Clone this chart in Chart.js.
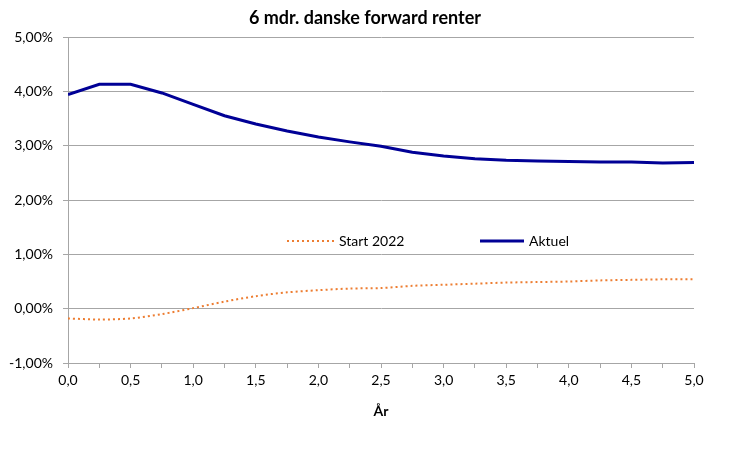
<!DOCTYPE html>
<html>
<head>
<meta charset="utf-8">
<script src="https://cdn.jsdelivr.net/npm/chart.js@4"></script>
<style>
    html, body { margin: 0; padding: 0; background: #fff; }
    #wrap { width: 739px; height: 466px; }
</style>
</head>
<body>
<div id="wrap"><canvas id="chart" width="739" height="466"></canvas></div>
<script>
// Data
const years = [0, 0.25, 0.5, 0.75, 1, 1.25, 1.5, 1.75, 2, 2.25, 2.5, 2.75, 3, 3.25, 3.5, 3.75, 4, 4.25, 4.5, 4.75, 5];
const start2022 = [-0.18, -0.20, -0.18, -0.10, 0.01, 0.13, 0.23, 0.30, 0.34, 0.37, 0.38, 0.42, 0.44, 0.46, 0.48, 0.49, 0.50, 0.52, 0.53, 0.54, 0.54];
const aktuel = [3.94, 4.13, 4.13, 3.97, 3.76, 3.55, 3.40, 3.27, 3.16, 3.07, 2.99, 2.88, 2.81, 2.76, 2.73, 2.72, 2.71, 2.70, 2.70, 2.68, 2.69];
const yTicks = [-1, 0, 1, 2, 3, 4, 5];

const FONT = "Lato, 'Open Sans', sans-serif";
const GRID = "#a6a6a6";

function toPoints(vals) {
    return years.map((x, i) => ({ x: x, y: vals[i] }));
}

// Center the title on the whole picture, not just the plot box
const titleCenter = {
    id: "titleCenter",
    afterLayout(chart) {
        if (chart.titleBlock) {
            chart.titleBlock.left = 0;
            chart.titleBlock.right = 730;
        }
    }
};

// Legend drawn inside the plot, like the Excel original
const innerLegend = {
    id: "innerLegend",
    afterDraw(chart) {
        const ctx = chart.ctx;
        const area = chart.chartArea;
        const y = area.top + (area.bottom - area.top) * 0.626;
        const items = [
            { ds: chart.data.datasets[0], x0: 287, x1: 334 },
            { ds: chart.data.datasets[1], x0: 480, x1: 524 }
        ];
        ctx.save();
        items.forEach(function (it) {
            ctx.beginPath();
            ctx.strokeStyle = it.ds.borderColor;
            ctx.lineWidth = it.ds.borderWidth;
            ctx.setLineDash(it.ds.borderDash || []);
            ctx.moveTo(it.x0, y);
            ctx.lineTo(it.x1, y);
            ctx.stroke();
            ctx.setLineDash([]);
            ctx.fillStyle = "#000";
            ctx.font = "14px " + FONT;
            ctx.textBaseline = "middle";
            ctx.fillText(it.ds.label, it.x1 + 5, y);
        });
        ctx.restore();
    }
};

const ctx = document.getElementById("chart").getContext("2d");
new Chart(ctx, {
    type: "line",
    data: {
        datasets: [{
            label: "Start 2022",
            data: toPoints(start2022),
            borderColor: "#ed7d31",
            borderWidth: 2,
            borderDash: [2, 3],
            pointRadius: 0,
            tension: 0.3,
            fill: false
        }, {
            label: "Aktuel",
            data: toPoints(aktuel),
            borderColor: "#000096",
            borderWidth: 3,
            pointRadius: 0,
            tension: 0,
            fill: false
        }]
    },
    options: {
        responsive: false,
        animation: false,
        layout: { padding: { left: 0, right: 45, top: 0, bottom: 0 } },
        plugins: {
            legend: { display: false },
            tooltip: { enabled: false },
            title: {
                display: true,
                text: "6 mdr. danske forward renter",
                color: "#000",
                font: { family: FONT, size: 18, weight: "bold" },
                padding: { top: 7, bottom: 8.4 }
            }
        },
        scales: {
            x: {
                type: "linear",
                min: 0,
                max: 5,
                afterBuildTicks(scale) {
                    scale.ticks = years.map(v => ({ value: v }));
                },
                afterFit(scale) { scale.height = 103; },
                ticks: {
                    autoSkip: false,
                    maxRotation: 0,
                    padding: 4,
                    color: "#000",
                    font: { family: FONT, size: 14 },
                    callback: function (v) {
                        return (Math.round(v * 100) % 50 === 0) ? v.toFixed(1).replace(".", ",") : "";
                    }
                },
                grid: { drawOnChartArea: false, drawTicks: true, tickLength: 5, color: GRID },
                border: { color: GRID, width: 1 },
                title: {
                    display: true,
                    text: "År",
                    color: "#000",
                    font: { family: FONT, size: 14, weight: "bold" },
                    padding: { top: 0, bottom: 46 }
                }
            },
            y: {
                min: -1,
                max: 5,
                afterBuildTicks(scale) {
                    scale.ticks = yTicks.map(v => ({ value: v }));
                },
                afterFit(scale) { scale.width = 68; },
                ticks: {
                    padding: 10,
                    color: "#000",
                    font: { family: FONT, size: 14 },
                    callback: function (v) {
                        return v.toFixed(2).replace(".", ",") + "%";
                    }
                },
                grid: { color: GRID, tickLength: 5 },
                border: { color: GRID, width: 1 }
            }
        }
    },
    plugins: [titleCenter, innerLegend]
});
</script>
</body>
</html>
